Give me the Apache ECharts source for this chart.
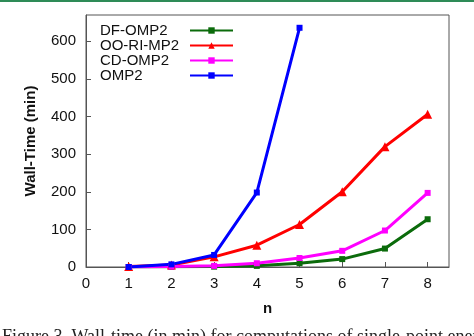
<!DOCTYPE html>
<html><head><meta charset="utf-8">
<script src="https://cdn.jsdelivr.net/npm/echarts@6/dist/echarts.min.js"></script>
<style>html,body{margin:0;padding:0;background:#fff}#c{width:474px;height:336px}</style>
</head><body><div id="c"></div>
<script>
const nValues = [1, 2, 3, 4, 5, 6, 7, 8];
const dfOmp2 = [0, 0.5, 1, 3, 10, 21, 49, 127];
const ooRiMp2 = [1, 5, 27, 58, 113, 200, 320, 406];
const cdOmp2 = [0, 1, 3, 10, 24, 43, 97, 197];
const omp2 = [0, 7, 32, 198, 636];
const xTicks = [0, 1, 2, 3, 4, 5, 6, 7, 8];
const yTicks = [0, 100, 200, 300, 400, 500, 600];

function pairs(xs, ys) { return ys.map((y, i) => [xs[i], y]); }

const chart = echarts.init(document.getElementById('c'));
const font = 'Liberation Sans, Arial, sans-serif';
const mk = (name, data, color, symbol, size) => ({
  name, type: 'line', data: pairs(nValues, data),
  symbol, symbolSize: size, showSymbol: true,
  lineStyle: { color, width: 3 }, itemStyle: { color },
  animation: false
});
chart.setOption({
  animation: false,
  grid: { left: 86, right: 25, top: 15, bottom: 69, show: true, borderColor: '#555', borderWidth: 1 },
  legend: {
    orient: 'vertical', left: 95, top: 18, align: 'right',
    itemWidth: 43, itemHeight: 8, itemGap: 0,
    formatter: n => '{a|' + n + '}',
    textStyle: { fontFamily: font, fontSize: 15, color: '#111',
      rich: { a: { width: 85, height: 14.6, lineHeight: 14.6, align: 'left', fontFamily: font, fontSize: 15, color: '#111' } } },
    data: ['DF-OMP2', 'OO-RI-MP2', 'CD-OMP2', 'OMP2']
  },
  xAxis: {
    type: 'value', min: 0, max: 8.5, interval: 1,
    name: 'n', nameLocation: 'middle', nameGap: 34,
    nameTextStyle: { fontFamily: font, fontSize: 15, fontWeight: 'bold', color: '#111' },
    axisLine: { show: true, lineStyle: { color: '#555' } },
    axisTick: { show: true, inside: true, length: 5, lineStyle: { color: '#555' } },
    axisLabel: { fontFamily: font, fontSize: 15, color: '#111', margin: 9, showMaxLabel: false,
      formatter: v => xTicks.includes(v) ? String(v) : '' },
    splitLine: { show: false }
  },
  yAxis: {
    type: 'value', min: 0, max: 670, interval: 100,
    name: 'Wall-Time (min)', nameLocation: 'middle', nameGap: 48,
    nameTextStyle: { fontFamily: font, fontSize: 15, fontWeight: 'bold', color: '#111' },
    axisLine: { show: true, lineStyle: { color: '#555' } },
    axisTick: { show: true, inside: true, length: 5, lineStyle: { color: '#555' } },
    axisLabel: { fontFamily: font, fontSize: 15, color: '#111', margin: 10, showMaxLabel: false,
      formatter: v => yTicks.includes(v) ? String(v) : '' },
    splitLine: { show: false }
  },
  graphic: [
    { type: 'rect', left: 0, top: 0, shape: { width: 474, height: 2 }, style: { fill: '#2e8b57' } },
    { type: 'text', left: 2, top: 328, style: { text: 'Figure 3. Wall-time (in min) for computations of single-point energies', font: '18px "Liberation Serif", serif', fill: '#222' } }
  ],
  series: [
    mk('DF-OMP2', dfOmp2, '#0b6b0b', 'rect', 6),
    mk('OO-RI-MP2', ooRiMp2, '#ff0000', 'triangle', 9),
    mk('CD-OMP2', cdOmp2, '#ff00ff', 'rect', 6),
    mk('OMP2', omp2, '#0000ff', 'rect', 6)
  ]
});
</script></body></html>
